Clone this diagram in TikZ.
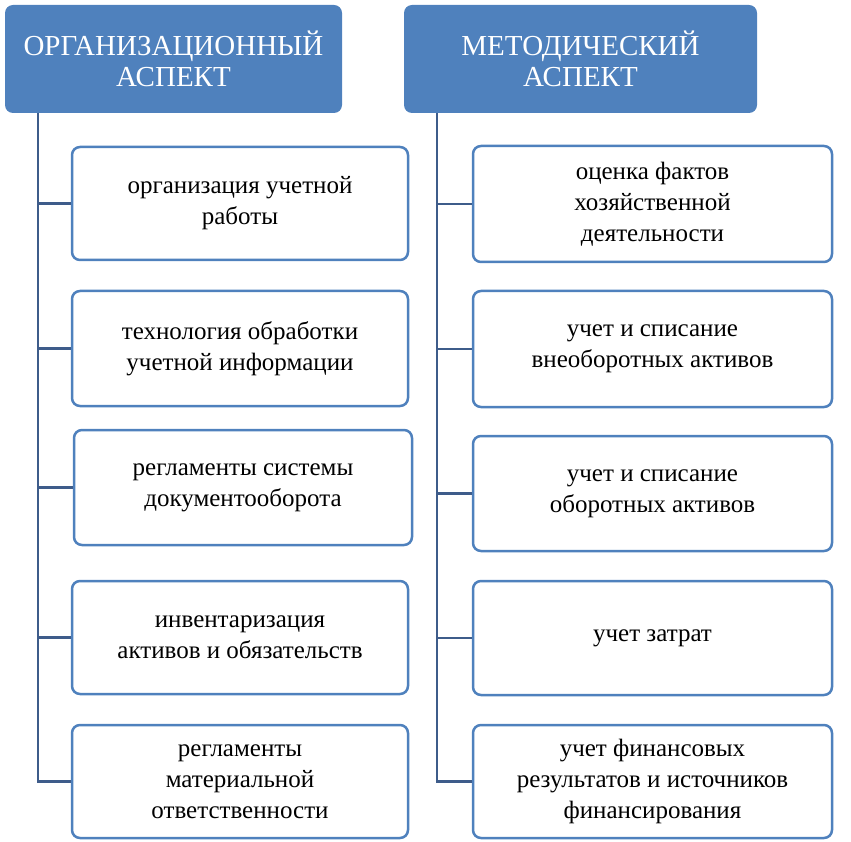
\documentclass[tikz,border=0pt]{standalone}
\usepackage{fontspec}
\setmainfont{Liberation Serif}
\definecolor{headblue}{RGB}{79,129,189}
\definecolor{linkblue}{RGB}{62,92,138}
\begin{document}
\begin{tikzpicture}[x=1pt,y=-1pt,
  head/.style={fill=headblue,rounded corners=8pt,text=white,align=center,
    font=\fontsize{29}{31}\selectfont,inner sep=0pt},
  item/.style={draw=headblue,line width=2.5pt,fill=white,rounded corners=8pt,
    align=center,font=\fontsize{25}{31}\selectfont,inner sep=0pt},
  link/.style={draw=linkblue,line width=2.5pt}]
\useasboundingbox (0,0) rectangle (851,842);

% Headers
\node[head,minimum width=337pt,minimum height=108pt] (org) at (173.5,59) {ОРГАНИЗАЦИОННЫЙ\\АСПЕКТ};
\node[head,minimum width=353pt,minimum height=108pt] (met) at (580.5,59) {МЕТОДИЧЕСКИЙ\\АСПЕКТ};

% Left column
\node[item,minimum width=336pt,minimum height=113pt] (o1) at (240,203.5) {организация учетной\\работы};
\node[item,minimum width=336pt,minimum height=115pt] (o2) at (240,348.5) {технология обработки\\учетной информации};
\node[item,minimum width=338pt,minimum height=115pt] (o3) at (243,487.5) {регламенты системы\\документооборота};
\node[item,minimum width=336pt,minimum height=113pt] (o4) at (240,637.5) {инвентаризация\\активов и обязательств};
\node[item,minimum width=336pt,minimum height=113pt] (o5) at (240,781.5) {регламенты\\материальной\\ответственности};

% Right column
\node[item,minimum width=359pt,minimum height=116pt] (m1) at (652.5,204) {оценка фактов\\хозяйственной\\деятельности};
\node[item,minimum width=359pt,minimum height=116pt] (m2) at (652.5,349) {учет и списание\\внеоборотных активов};
\node[item,minimum width=359pt,minimum height=115pt] (m3) at (652.5,493.5) {учет и списание\\оборотных активов};
\node[item,minimum width=359pt,minimum height=114pt] (m4) at (652.5,638) {учет затрат};
\node[item,minimum width=359pt,minimum height=113pt] (m5) at (652.5,781.5) {учет финансовых\\результатов и источников\\финансирования};

% Connectors
\coordinate (oL) at (38,113);
\coordinate (mL) at (437,113);
\draw[link] (oL) -- (oL |- o5.west) -- (o5.west);
\foreach \n in {o1,o2,o3,o4} \draw[link] (oL |- \n.west) -- (\n.west);
\draw[link] (mL) -- (mL |- m5.west) -- (m5.west);
\foreach \n in {m1,m2,m3,m4} \draw[link] (mL |- \n.west) -- (\n.west);
\end{tikzpicture}
\end{document}
